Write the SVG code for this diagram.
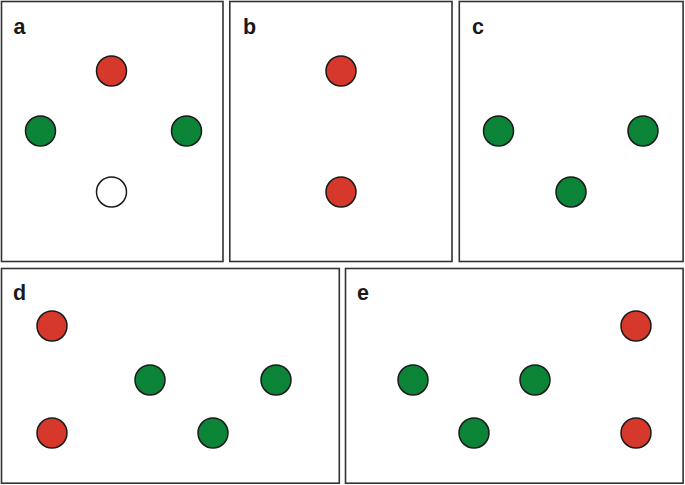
<svg xmlns="http://www.w3.org/2000/svg" width="685" height="485" viewBox="0 0 685 485">
<style>
.panel{fill:#fff;stroke:#333;stroke-width:1.6}
.lbl{font-family:"Liberation Sans",Arial,sans-serif;font-weight:bold;font-size:21.5px;fill:#1a1a1a}
.r{fill:#d6392b;stroke:#1a1a1a;stroke-width:1.5}
.g{fill:#0b8437;stroke:#1a1a1a;stroke-width:1.5}
.w{fill:#fff;stroke:#1a1a1a;stroke-width:1.5}
</style>
<rect width="685" height="485" fill="#fff"/>
<g id="panel-a">
<rect class="panel" x="1.5" y="1.5" width="221.5" height="260"/>
<text class="lbl" x="13.5" y="34">a</text>
<circle class="r" cx="111.5" cy="71" r="15"/>
<circle class="g" cx="40.5" cy="131" r="15"/>
<circle class="g" cx="186.5" cy="131" r="15"/>
<circle class="w" cx="111.5" cy="192" r="15"/>
</g>
<g id="panel-b">
<rect class="panel" x="229.8" y="1.5" width="222.2" height="260"/>
<text class="lbl" x="243" y="34">b</text>
<circle class="r" cx="341" cy="71" r="15"/>
<circle class="r" cx="341" cy="192" r="15"/>
</g>
<g id="panel-c">
<rect class="panel" x="459.3" y="1.5" width="223.8" height="260"/>
<text class="lbl" x="472" y="34">c</text>
<circle class="g" cx="498.5" cy="131" r="15"/>
<circle class="g" cx="643" cy="131" r="15"/>
<circle class="g" cx="571" cy="192" r="15"/>
</g>
<g id="panel-d">
<rect class="panel" x="1.5" y="268.5" width="337.8" height="214.7"/>
<text class="lbl" x="13" y="300">d</text>
<circle class="r" cx="52" cy="326" r="15"/>
<circle class="r" cx="52" cy="433" r="15"/>
<circle class="g" cx="150" cy="380" r="15"/>
<circle class="g" cx="276" cy="380" r="15"/>
<circle class="g" cx="213" cy="433" r="15"/>
</g>
<g id="panel-e">
<rect class="panel" x="345.5" y="268.5" width="337.6" height="214.7"/>
<text class="lbl" x="357" y="300">e</text>
<circle class="g" cx="413" cy="380" r="15"/>
<circle class="g" cx="535" cy="380" r="15"/>
<circle class="g" cx="474" cy="433" r="15"/>
<circle class="r" cx="636" cy="326" r="15"/>
<circle class="r" cx="636" cy="433" r="15"/>
</g>
<g id="connectors"></g>
</svg>
